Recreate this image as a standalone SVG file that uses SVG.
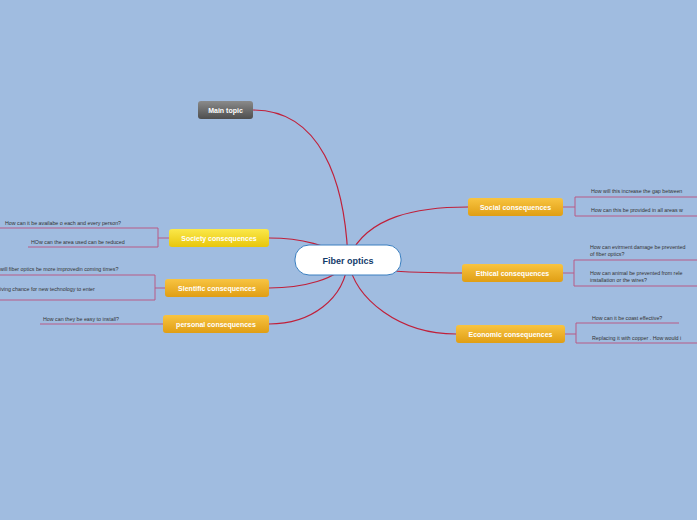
<svg xmlns="http://www.w3.org/2000/svg" width="697" height="520" viewBox="0 0 697 520">
<defs>
<linearGradient id="gy" x1="0" y1="0" x2="0" y2="1"><stop offset="0" stop-color="#fbe84a"/><stop offset="1" stop-color="#e8c60c"/></linearGradient>
<linearGradient id="go" x1="0" y1="0" x2="0" y2="1"><stop offset="0" stop-color="#f8c441"/><stop offset="1" stop-color="#e09e14"/></linearGradient>
<linearGradient id="gg" x1="0" y1="0" x2="0" y2="1"><stop offset="0" stop-color="#8a8a8a"/><stop offset="1" stop-color="#4e4e4e"/></linearGradient>
<style>
.c{fill:none;stroke:#c0203a;stroke-width:1.2}
.b{fill:none;stroke:#b85a86;stroke-width:1}
.t{font-family:"Liberation Sans",Arial,sans-serif;font-weight:bold;font-size:7px;fill:#fff;text-anchor:middle}
.s{font-family:"Liberation Sans",Arial,sans-serif;font-size:5.3px;fill:#333}
</style>
</defs>
<rect width="697" height="520" fill="#a0bce0"/>
<g id="connectors">
<path class="c" d="M348 260 C345 180 320 110 253 110"/>
<path class="c" d="M348 260 C365 215 420 207 468 207"/>
<path class="c" d="M348 260 C360 270 400 273 462 273"/>
<path class="c" d="M348 260 C355 300 400 334 456 334"/>
<path class="c" d="M348 260 C330 245 300 238 269 238"/>
<path class="c" d="M348 260 C340 280 300 288 269 288"/>
<path class="c" d="M348 260 C345 300 310 324 269 324"/>
<path class="b" d="M563 207H575M575 197V216M575 197H697M575 216H697"/>
<path class="b" d="M563 273H574M574 260V286M574 260H697M574 286H697"/>
<path class="b" d="M565 334H576M576 323V343M576 323H679M576 343H697"/>
<path class="b" d="M169 238H158M158 228V247M158 228H0M158 247H28"/>
<path class="b" d="M165 288H155M155 275V300M155 275H0M155 300H0"/>
<path class="b" d="M163 324H40"/>
</g>
<g id="center"><rect x="295" y="245" width="106" height="30" rx="14" fill="#fff" stroke="#3a7fc0"/><text x="348" y="264" style="font-family:'Liberation Sans',Arial,sans-serif;font-weight:bold;font-size:9px;fill:#123a6a;text-anchor:middle">Fiber optics</text></g>
<g id="main"><rect x="198" y="101" width="55" height="18" rx="3" fill="url(#gg)"/><text class="t" x="225.5" y="112.5">Main topic</text></g>
<g id="social"><rect x="468" y="198" width="95" height="18" rx="3" fill="url(#go)"/><text class="t" x="515.5" y="209.5">Social consequences</text>
<text class="s" x="591" y="193">How will this increase the gap between</text><text class="s" x="591" y="212">How can this be provided in all areas w</text></g>
<g id="ethical"><rect x="462" y="264" width="101" height="18" rx="3" fill="url(#go)"/><text class="t" x="512.5" y="275.5">Ethical  consequences</text>
<text class="s" x="590" y="249">How can evirment damage be prevented</text><text class="s" x="590" y="256">of  fiber optics?</text>
<text class="s" x="590" y="275">How can animal be prevented from rele</text><text class="s" x="590" y="282">installation  or the wires?</text></g>
<g id="economic"><rect x="456" y="325" width="109" height="18" rx="3" fill="url(#go)"/><text class="t" x="510.5" y="336.5">Economic consequences</text>
<text class="s" x="592" y="319.5">How can it be coast effective?</text><text class="s" x="592" y="339.5">Replacing it with copper  . How would i</text></g>
<g id="society"><rect x="169" y="229" width="100" height="18" rx="3" fill="url(#gy)"/><text class="t" x="219" y="240.5">Society consequences</text>
<text class="s" x="5" y="225">How can it be availabe o each and every person?</text><text class="s" x="31" y="243.5">HOw can the area used  can be reduced</text></g>
<g id="scientific"><rect x="165" y="279" width="104" height="18" rx="3" fill="url(#go)"/><text class="t" x="217" y="290.5">Slentific consequences</text>
<text class="s" x="0" y="270.5">will fiber optics be more improvedin coming times?</text><text class="s" x="0" y="290.5">iving chance for new technology to enter</text></g>
<g id="personal"><rect x="163" y="315" width="106" height="18" rx="3" fill="url(#go)"/><text class="t" x="216" y="326.5">personal consequences</text>
<text class="s" x="43" y="320.5">How  can they be easy  to install?</text></g>
</svg>
